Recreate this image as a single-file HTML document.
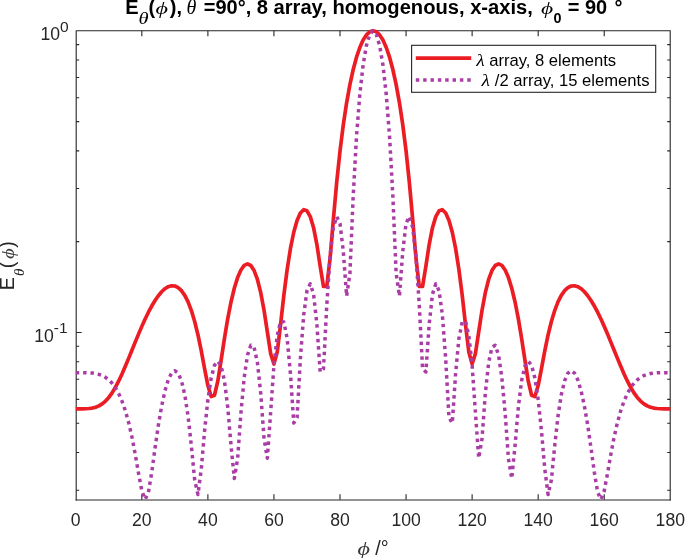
<!DOCTYPE html>
<html><head><meta charset="utf-8"><style>
html,body{margin:0;padding:0;background:#fff;}
body{width:685px;height:558px;overflow:hidden;}
svg{display:block;filter:blur(0.3px);}
svg{font-family:"Liberation Sans",Arial,sans-serif;}
</style></head><body>
<svg width="685" height="558" viewBox="0 0 685 558">
<rect width="685" height="558" fill="#fff"/>
<g fill="none" stroke="#262626" stroke-width="1.1">
<path d="M76.2,30.8H670.2M76.2,30.25V500.45M670.2,30.25V500.45"/>
<path d="M75.65,500.0H670.75" stroke-width="1.0"/>
<path d="M141.83,499.7V494.2 M141.83,30.8V36.3 M207.89,499.7V494.2 M207.89,30.8V36.3 M273.94,499.7V494.2 M273.94,30.8V36.3 M340.00,499.7V494.2 M340.00,30.8V36.3 M406.06,499.7V494.2 M406.06,30.8V36.3 M472.12,499.7V494.2 M472.12,30.8V36.3 M538.18,499.7V494.2 M538.18,30.8V36.3 M604.23,499.7V494.2 M604.23,30.8V36.3 M76.2,332.45H81.7 M670.2,332.45H664.7 M76.2,241.64H79.2 M670.2,241.64H667.2 M76.2,188.53H79.2 M670.2,188.53H667.2 M76.2,150.84H79.2 M670.2,150.84H667.2 M76.2,121.61H79.2 M670.2,121.61H667.2 M76.2,97.72H79.2 M670.2,97.72H667.2 M76.2,77.53H79.2 M670.2,77.53H667.2 M76.2,60.03H79.2 M670.2,60.03H667.2 M76.2,44.60H79.2 M670.2,44.60H667.2 M76.2,490.18H79.2 M670.2,490.18H667.2 M76.2,452.49H79.2 M670.2,452.49H667.2 M76.2,423.26H79.2 M670.2,423.26H667.2 M76.2,399.37H79.2 M670.2,399.37H667.2 M76.2,379.18H79.2 M670.2,379.18H667.2 M76.2,361.68H79.2 M670.2,361.68H667.2 M76.2,346.25H79.2 M670.2,346.25H667.2"/>
</g>
<g fill="#262626" font-size="17.6"><text x="75.77" y="526.3" text-anchor="middle">0</text><text x="141.83" y="526.3" text-anchor="middle">20</text><text x="207.89" y="526.3" text-anchor="middle">40</text><text x="273.94" y="526.3" text-anchor="middle">60</text><text x="340.00" y="526.3" text-anchor="middle">80</text><text x="406.06" y="526.3" text-anchor="middle">100</text><text x="472.12" y="526.3" text-anchor="middle">120</text><text x="538.18" y="526.3" text-anchor="middle">140</text><text x="604.23" y="526.3" text-anchor="middle">160</text><text x="670.29" y="526.3" text-anchor="middle">180</text>
<text x="68.7" y="40.3" text-anchor="end">10<tspan font-size="15.5" dy="-8.8">0</tspan></text>
<text x="67.6" y="341.7" text-anchor="end">10<tspan font-size="15.5" dy="-8.8">-1</tspan></text>
</g>
<path d="M75.77,408.84 L79.07,408.84 L82.38,408.82 L85.68,408.73 L88.98,408.51 L92.28,408.05 L95.59,407.22 L98.89,405.88 L102.19,403.88 L105.50,401.10 L108.80,397.43 L112.10,392.83 L115.40,387.32 L118.71,380.98 L122.01,373.92 L125.31,366.33 L128.62,358.37 L131.92,350.24 L135.22,342.09 L138.53,334.09 L141.83,326.37 L145.13,319.05 L148.43,312.24 L151.74,306.02 L155.04,300.48 L158.34,295.69 L161.65,291.74 L164.95,288.71 L168.25,286.68 L171.55,285.75 L174.86,286.02 L178.16,287.62 L181.46,290.69 L184.77,295.40 L188.07,301.95 L191.37,310.57 L194.67,321.50 L197.98,334.95 L201.28,350.86 L204.58,368.54 L207.89,385.55 L211.19,396.54 L214.49,395.24 L217.79,381.18 L221.10,360.40 L224.40,338.68 L227.70,318.89 L231.01,302.01 L234.31,288.26 L237.61,277.61 L240.92,269.99 L244.22,265.38 L247.52,263.83 L250.82,265.49 L254.13,270.58 L257.43,279.48 L260.73,292.59 L264.04,310.25 L267.34,331.89 L270.64,353.59 L273.94,364.03 L277.25,352.05 L280.55,324.76 L283.85,295.31 L287.16,269.47 L290.46,248.48 L293.76,232.25 L297.06,220.48 L300.37,212.98 L303.67,209.71 L306.97,210.82 L310.28,216.65 L313.58,227.73 L316.88,244.54 L320.18,266.30 L323.49,286.40 L326.79,286.50 L330.09,258.10 L333.40,219.09 L336.70,182.45 L340.00,151.08 L343.30,124.79 L346.61,102.83 L349.91,84.56 L353.21,69.48 L356.52,57.21 L359.82,47.48 L363.12,40.09 L366.43,34.90 L369.73,31.82 L373.03,30.80 L376.33,31.82 L379.64,34.90 L382.94,40.09 L386.24,47.48 L389.55,57.21 L392.85,69.48 L396.15,84.56 L399.45,102.83 L402.76,124.79 L406.06,151.08 L409.36,182.45 L412.67,219.09 L415.97,258.10 L419.27,286.50 L422.57,286.40 L425.88,266.30 L429.18,244.54 L432.48,227.73 L435.79,216.65 L439.09,210.82 L442.39,209.71 L445.69,212.98 L449.00,220.48 L452.30,232.25 L455.60,248.48 L458.91,269.47 L462.21,295.31 L465.51,324.76 L468.82,352.05 L472.12,364.03 L475.42,353.59 L478.72,331.89 L482.03,310.25 L485.33,292.59 L488.63,279.48 L491.94,270.58 L495.24,265.49 L498.54,263.83 L501.84,265.38 L505.15,269.99 L508.45,277.61 L511.75,288.26 L515.06,302.01 L518.36,318.89 L521.66,338.68 L524.96,360.40 L528.27,381.18 L531.57,395.24 L534.87,396.54 L538.18,385.55 L541.48,368.54 L544.78,350.86 L548.08,334.95 L551.39,321.50 L554.69,310.57 L557.99,301.95 L561.30,295.40 L564.60,290.69 L567.90,287.62 L571.21,286.02 L574.51,285.75 L577.81,286.68 L581.11,288.71 L584.42,291.74 L587.72,295.69 L591.02,300.48 L594.33,306.02 L597.63,312.24 L600.93,319.05 L604.23,326.37 L607.54,334.09 L610.84,342.09 L614.14,350.24 L617.45,358.37 L620.75,366.33 L624.05,373.92 L627.35,380.98 L630.66,387.32 L633.96,392.83 L637.26,397.43 L640.57,401.10 L643.87,403.88 L647.17,405.88 L650.47,407.22 L653.78,408.05 L657.08,408.51 L660.38,408.73 L663.69,408.82 L666.99,408.84 L670.29,408.84" fill="none" stroke="#EC1C24" stroke-width="3.7" stroke-linejoin="round"/>
<path d="M75.77,372.64 L79.07,372.64 L82.38,372.65 L85.68,372.70 L88.98,372.83 L92.28,373.09 L95.59,373.57 L98.89,374.36 L102.19,375.58 L105.50,377.35 L108.80,379.85 L112.10,383.24 L115.40,387.74 L118.71,393.60 L122.01,401.11 L125.31,410.61 L128.62,422.46 L131.92,436.98 L135.22,454.23 L138.53,473.32 L141.83,490.83 L145.13,499.36 L148.43,492.15 L151.74,472.20 L155.04,448.09 L158.34,425.35 L161.65,406.09 L164.95,390.90 L168.25,379.89 L171.55,373.11 L174.86,370.74 L178.16,373.11 L181.46,380.82 L184.77,394.77 L188.07,416.17 L191.37,445.90 L194.67,479.87 L197.98,494.51 L201.28,468.94 L204.58,430.91 L207.89,399.67 L211.19,377.97 L214.49,365.28 L217.79,361.19 L221.10,365.93 L224.40,380.53 L227.70,406.81 L231.01,445.32 L234.31,478.52 L237.61,458.83 L240.92,413.16 L244.22,377.30 L247.52,355.06 L250.82,345.23 L254.13,347.41 L257.43,362.62 L260.73,393.30 L264.04,438.61 L267.34,458.15 L270.64,412.44 L273.94,365.32 L277.25,335.43 L280.55,321.35 L283.85,321.98 L287.16,338.40 L290.46,373.72 L293.76,423.03 L297.06,417.65 L300.37,358.98 L303.67,315.08 L306.97,290.86 L310.28,283.85 L313.58,294.10 L316.88,324.41 L320.18,372.01 L323.49,368.82 L326.79,304.96 L330.09,255.90 L333.40,227.36 L336.70,216.52 L340.00,223.44 L343.30,251.41 L346.61,296.10 L349.91,273.46 L353.21,195.95 L356.52,136.32 L359.82,94.34 L363.12,65.06 L366.43,45.61 L369.73,34.44 L373.03,30.80 L376.33,34.44 L379.64,45.61 L382.94,65.06 L386.24,94.34 L389.55,136.32 L392.85,195.95 L396.15,273.46 L399.45,296.10 L402.76,251.41 L406.06,223.44 L409.36,216.52 L412.67,227.36 L415.97,255.90 L419.27,304.96 L422.57,368.82 L425.88,372.01 L429.18,324.41 L432.48,294.10 L435.79,283.85 L439.09,290.86 L442.39,315.08 L445.69,358.98 L449.00,417.65 L452.30,423.03 L455.60,373.72 L458.91,338.40 L462.21,321.98 L465.51,321.35 L468.82,335.43 L472.12,365.32 L475.42,412.44 L478.72,458.15 L482.03,438.61 L485.33,393.30 L488.63,362.62 L491.94,347.41 L495.24,345.23 L498.54,355.06 L501.84,377.30 L505.15,413.16 L508.45,458.83 L511.75,478.52 L515.06,445.32 L518.36,406.81 L521.66,380.53 L524.96,365.93 L528.27,361.19 L531.57,365.28 L534.87,377.97 L538.18,399.67 L541.48,430.91 L544.78,468.94 L548.08,494.51 L551.39,479.87 L554.69,445.90 L557.99,416.17 L561.30,394.77 L564.60,380.82 L567.90,373.11 L571.21,370.74 L574.51,373.11 L577.81,379.89 L581.11,390.90 L584.42,406.09 L587.72,425.35 L591.02,448.09 L594.33,472.20 L597.63,492.15 L600.93,499.36 L604.23,490.83 L607.54,473.32 L610.84,454.23 L614.14,436.98 L617.45,422.46 L620.75,410.61 L624.05,401.11 L627.35,393.60 L630.66,387.74 L633.96,383.24 L637.26,379.85 L640.57,377.35 L643.87,375.58 L647.17,374.36 L650.47,373.57 L653.78,373.09 L657.08,372.83 L660.38,372.70 L663.69,372.65 L666.99,372.64 L670.29,372.64" fill="none" stroke="#AA3CA6" stroke-width="3.5" stroke-dasharray="3.45 3.9" stroke-linejoin="round"/>
<rect x="411.6" y="45.3" width="244.1" height="47" fill="#fff" stroke="#262626" stroke-width="1.1"/>
<path d="M415.8,58.2H471.2" stroke="#EC1C24" stroke-width="3.7"/>
<path d="M415.8,80H471.2" stroke="#AA3CA6" stroke-width="3.5" stroke-dasharray="3.45 3.9" stroke-linejoin="round"/>
<g font-size="16.6" fill="#000">
<text transform="translate(476.3,65.7) scale(1.2,1)" font-family="'Liberation Serif', serif" font-style="italic" font-weight="normal" font-size="16.3">λ</text>
<text x="489.2" y="65.7">array, 8 elements</text>
<text transform="translate(481.6,86.2) scale(1.2,1)" font-family="'Liberation Serif', serif" font-style="italic" font-weight="normal" font-size="16.3">λ</text>
<text x="494.8" y="86.2">/2 array, 15 elements</text>
</g>
<g font-size="20" font-weight="bold" fill="#000">
<text x="125.3" y="13.7">E</text>
<text transform="translate(138.6,23.5) scale(1.28,1)" font-family="'Liberation Serif', serif" font-style="italic" font-weight="normal" font-size="16">θ</text>
<text x="148.6" y="13.7">(</text>
<text transform="translate(155.6,13.7) scale(1.42,1.04)" font-family="'Liberation Serif', serif" font-style="italic" font-weight="normal" font-size="17">ϕ</text>
<text x="169.8" y="13.7">),</text>
<text x="186.5" y="13.7" font-family="'Liberation Serif', serif" font-style="italic" font-weight="normal" font-size="20">θ</text>
<text x="203.8" y="13.7">=90°,</text>
<text x="256.7" y="13.7" textLength="276.2" lengthAdjust="spacingAndGlyphs">8 array, homogenous, x-axis,</text>
<text transform="translate(541.0,13.7) scale(1.38,1.04)" font-family="'Liberation Serif', serif" font-style="italic" font-weight="normal" font-size="17">ϕ</text>
<text x="553.5" y="23.2" font-size="14.4">0</text>
<text x="567.7" y="13.7">= 90</text>
<text x="614.4" y="13.7">°</text>
</g>
<g font-size="19.8" fill="#262626">
<text transform="translate(357.6,554.8) scale(1.42,1.06)" font-family="'Liberation Serif', serif" font-style="italic" font-weight="normal" font-size="17" fill="#3a3a3a">ϕ</text>
<text x="375.3" y="554.5">/°</text>
<g transform="translate(14,290.2) rotate(-90)">
<text x="0" y="0">E</text>
<text x="14.1" y="9.7" font-family="'Liberation Serif', serif" font-style="italic" font-weight="normal" font-size="15.2">θ</text>
<text x="21.9" y="0">(</text>
<text transform="translate(31.2,0) scale(1.3,1.04)" font-family="'Liberation Serif', serif" font-style="italic" font-weight="normal" font-size="16" fill="#3a3a3a">ϕ</text>
<text x="42.4" y="0">)</text>
</g>
</g>
</svg>
</body></html>
